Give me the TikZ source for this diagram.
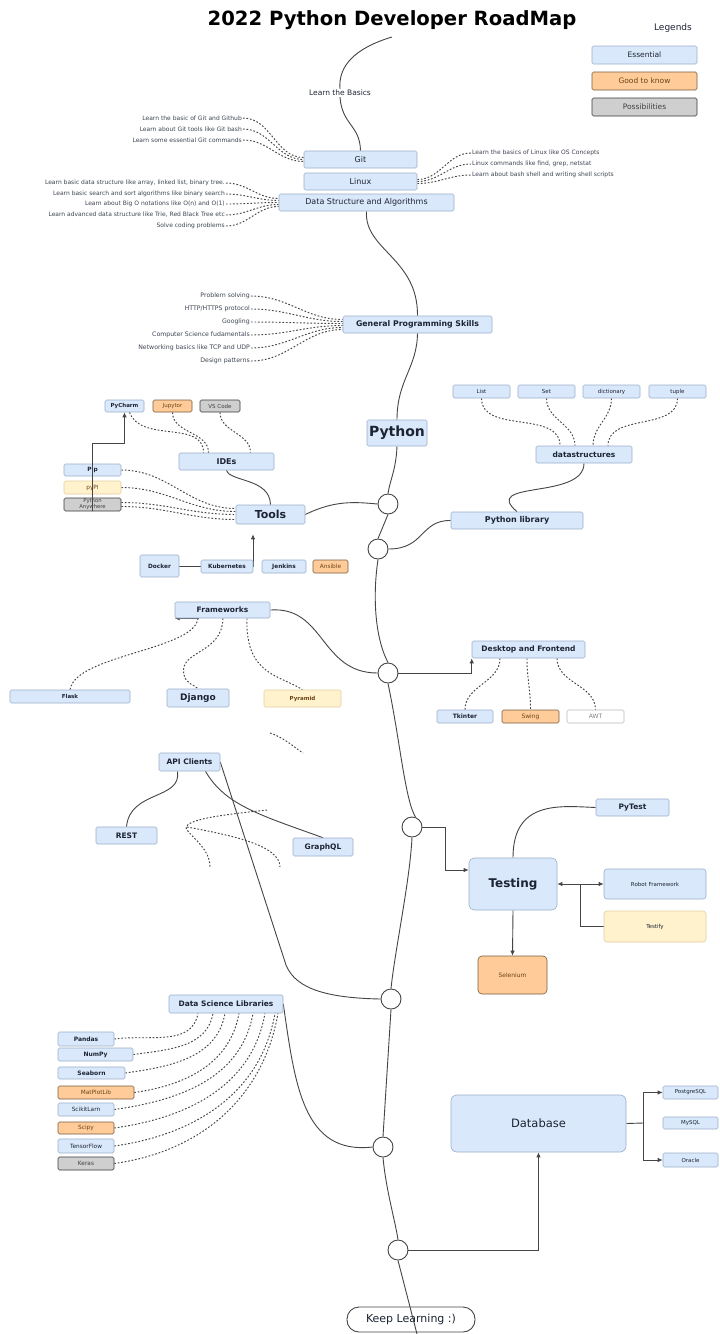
\documentclass[tikz,border=0pt]{standalone}
\usepackage{fontspec}
\setmainfont{DejaVu Sans}
\usetikzlibrary{arrows.meta}
\pgfdeclarelayer{bg}
\pgfsetlayers{bg,main}
\definecolor{essF}{HTML}{DAE8FC}
\definecolor{essD}{HTML}{9AAFCB}
\definecolor{goodF}{HTML}{FFCC99}
\definecolor{goodD}{HTML}{7A5C40}
\definecolor{goodT}{HTML}{6B4416}
\definecolor{possF}{HTML}{CFCFCF}
\definecolor{possD}{HTML}{3A3A3A}
\definecolor{possT}{HTML}{404040}
\definecolor{yelF}{HTML}{FFF2CC}
\definecolor{yelD}{HTML}{E2CFA0}
\definecolor{txt}{HTML}{1C2433}
\definecolor{lnc}{HTML}{454545}
\begin{document}
\begin{tikzpicture}[x=1pt,y=-1pt,
  box/.style={rectangle,rounded corners=1.5pt,inner sep=0pt,align=center,text=txt,line width=0.6pt},
  ess/.style={box,draw=essD,fill=essF},
  good/.style={box,draw=goodD,fill=goodF,text=goodT},
  poss/.style={box,draw=possD,fill=possF,text=possT},
  yel/.style={box,draw=yelD,fill=yelF,text=goodT},
  wbox/.style={box,draw=gray!55,fill=white,text=gray},
  wh/.style 2 args={minimum width=#1pt,minimum height=#2pt},
  fs/.style={font=\fontsize{#1}{#1}\selectfont},
  fsb/.style={font=\fontsize{#1}{#1}\selectfont\bfseries},
  note/.style={fs=6,inner sep=1pt,text=txt!85},
  dotl/.style={draw=lnc,line width=0.95pt,dash pattern=on 1.7pt off 1.8pt},
  ln/.style={draw=lnc,line width=0.9pt},
  arr/.style={ln,-{Latex[length=5pt,width=4.5pt]}},
  darr/.style={ln,{Latex[length=5pt,width=4.5pt]}-{Latex[length=5pt,width=4.5pt]}},
  circ/.style={circle,draw=lnc,fill=white,line width=0.9pt,minimum size=20pt,inner sep=0pt}
]
\useasboundingbox (0,0) rectangle (720,1334);

% ---------- title and legend
\node[fsb=19.6,text=black] (title) at (392,20) {2022 Python Developer RoadMap};
\node[fs=9,text=txt] (legends) at (673,28) {Legends};
\node[ess,wh={105}{18},fs=7.5] (lgE) at (644.5,55) {Essential};
\node[good,wh={105}{18},fs=7.5] (lgG) at (644.5,81) {Good to know};
\node[poss,wh={105}{18},fs=7.5] (lgP) at (644.5,107) {Possibilities};

% ---------- basics
\coordinate (start) at (392,37);
\node[fs=7.5,inner sep=1pt,text=txt] (basics) at (340,93) {Learn the Basics};
\node[ess,wh={113}{17},fs=8] (git) at (360.5,159.5) {Git};
\node[ess,wh={113}{17},fs=8] (linux) at (360.5,181.5) {Linux};
\node[ess,wh={175}{17},fs=8] (dsa) at (366.5,202.5) {Data Structure and Algorithms};

\node[note,anchor=east] (g1) at (243,118) {Learn the basic of Git and Github};
\node[note,anchor=east] (g2) at (243,129) {Learn about Git tools like Git bash};
\node[note,anchor=east] (g3) at (243,140) {Learn some essential Git commands};

\node[note,anchor=west] (l1) at (471,153) {Learn the basics of Linux like OS Concepts};
\node[note,anchor=west] (l2) at (471,164) {Linux commands like find, grep, netstat};
\node[note,anchor=west] (l3) at (471,175) {Learn about bash shell and writing shell scripts};

\node[note,anchor=east] (d1) at (226,183) {Learn basic data structure like array, linked list, binary tree.};
\node[note,anchor=east] (d2) at (226,194) {Learn basic search and sort algorithms like binary search};
\node[note,anchor=east] (d3) at (226,204) {Learn about Big O notations like O(n) and O(1)};
\node[note,anchor=east] (d4) at (226,215) {Learn advanced data structure like Trie, Red Black Tree etc};
\node[note,anchor=east] (d5) at (226,226) {Solve coding problems};

% ---------- general skills
\node[ess,wh={149}{17},fsb=7.8] (gps) at (417.5,324.5) {General Programming Skills};
\node[note,fs=6.2,anchor=east] (p1) at (251,296) {Problem solving};
\node[note,fs=6.2,anchor=east] (p2) at (251,309) {HTTP/HTTPS protocol};
\node[note,fs=6.2,anchor=east] (p3) at (251,322) {Googling};
\node[note,fs=6.2,anchor=east] (p4) at (251,335) {Computer Science fudamentals};
\node[note,fs=6.2,anchor=east] (p5) at (251,348) {Networking basics like TCP and UDP};
\node[note,fs=6.2,anchor=east] (p6) at (251,361) {Design patterns};

% ---------- python
\node[ess,wh={60}{26},fsb=14] (py) at (397,433) {Python};
\node[circ] (c1) at (388,504) {};
\node[circ] (c2) at (378,549) {};
\node[circ] (c3) at (388,673) {};
\node[circ] (c4) at (412,827) {};
\node[circ] (c5) at (391,999) {};
\node[circ] (c6) at (383,1147) {};
\node[circ] (c7) at (398,1250) {};

% ---------- tools
\node[ess,wh={69}{19},fsb=11] (tools) at (270.5,514.5) {Tools};
\node[ess,wh={95}{17},fsb=8] (ides) at (226.5,461.5) {IDEs};
\node[ess,wh={39}{12},fsb=5.5] (pycharm) at (124.5,406) {PyCharm};
\node[good,wh={39}{12},fs=5.5] (jup) at (172.5,406) {Jupytor};
\node[poss,wh={40}{12},fs=5.5] (vsc) at (220,406) {VS Code};
\node[ess,wh={57}{12},fsb=5.8] (pip) at (92.5,470) {Pip};
\node[yel,wh={57}{13},fs=5.8] (pypi) at (92.5,487.5) {pyPI};
\node[poss,wh={57}{13},font=\fontsize{5.3}{6}\selectfont] (pa) at (92.5,504.5) {Python\\Anywhere};
\node[ess,wh={39}{22},fsb=5.8] (docker) at (159.5,566) {Docker};
\node[ess,wh={52}{13},fsb=5.8] (kube) at (227,566.5) {Kubernetes};
\node[ess,wh={44}{13},fsb=5.8] (jenkins) at (284,566.5) {Jenkins};
\node[good,wh={35}{13},fs=5.8] (ansible) at (330.5,566.5) {Ansible};

% ---------- python library
\node[ess,wh={132}{17},fsb=8] (pylib) at (517,520.5) {Python library};
\node[ess,wh={96}{17},fsb=7.5] (ds) at (584,454.5) {datastructures};
\node[ess,wh={57}{13},fs=5.5] (list) at (481.5,391.5) {List};
\node[ess,wh={57}{13},fs=5.5] (set) at (546.5,391.5) {Set};
\node[ess,wh={57}{13},fs=5.5] (dict) at (611.5,391.5) {dictionary};
\node[ess,wh={57}{13},fs=5.5] (tuple) at (677.5,391.5) {tuple};

% ---------- frameworks
\node[ess,wh={95}{16},fsb=7.5] (fw) at (222.5,610) {Frameworks};
\node[ess,wh={120}{13},fsb=5.5] (flask) at (70,696.5) {Flask};
\node[ess,wh={62}{18},fsb=9] (django) at (198,698) {Django};
\node[yel,wh={77}{17},fsb=5.5] (pyramid) at (302.5,698.5) {Pyramid};

% ---------- desktop
\node[ess,wh={113}{17},fsb=7.5] (desk) at (528.5,649.5) {Desktop and Frontend};
\node[ess,wh={56}{13},fsb=6] (tk) at (465,716.5) {Tkinter};
\node[good,wh={57}{13},fs=6] (swing) at (530.5,716.5) {Swing};
\node[wbox,wh={57}{13},fs=6] (awt) at (595.5,716.5) {AWT};

% ---------- api clients
\node[ess,wh={61}{18},fsb=7.5] (api) at (189.5,762) {API Clients};
\node[ess,wh={61}{17},fsb=7.5] (rest) at (126.5,835.5) {REST};
\node[ess,wh={60}{18},fsb=7.5] (gql) at (323,847) {GraphQL};

% ---------- testing
\node[ess,wh={88}{52},fsb=12,rounded corners=5pt] (testing) at (513,884) {Testing};
\node[ess,wh={73}{17},fsb=7.5] (pytest) at (632.5,807.5) {PyTest};
\node[ess,wh={102}{30},fs=5.5,rounded corners=3pt] (robot) at (655,884) {Robot Framework};
\node[yel,wh={102}{31},fs=5.5,rounded corners=3pt,text=txt] (testify) at (655,926.5) {Testify};
\node[good,wh={69}{38},fs=6,rounded corners=4pt] (selenium) at (512.5,975) {Selenium};

% ---------- data science
\node[ess,wh={114}{18},fsb=7.5] (dsl) at (226,1004) {Data Science Libraries};
\node[ess,wh={56}{14},fsb=6] (pandas) at (86,1039) {Pandas};
\node[ess,wh={75}{13},fsb=6] (numpy) at (95.5,1054.5) {NumPy};
\node[ess,wh={67}{12},fsb=6] (seaborn) at (91.5,1073) {Seaborn};
\node[good,wh={76}{13},fs=5.8] (mpl) at (96,1092.5) {MatPlotLib};
\node[ess,wh={56}{13},fs=5.8] (scikit) at (86,1109.5) {ScikitLarn};
\node[good,wh={56}{12},fs=5.8] (scipy) at (86,1128) {Scipy};
\node[ess,wh={56}{14},fs=5.8] (tf) at (86,1146) {TensorFlow};
\node[poss,wh={56}{13},fs=5.8] (keras) at (86,1163.5) {Keras};

% ---------- database
\node[ess,wh={175}{57},fs=11.5,rounded corners=6pt] (db) at (538.5,1123.5) {Database};
\node[ess,wh={55}{13},fs=5.5] (pg) at (690.5,1092.5) {PostgreSQL};
\node[ess,wh={55}{12},fs=5.5] (mysql) at (690.5,1123) {MySQL};
\node[ess,wh={55}{14},fs=5.5] (ora) at (690.5,1160) {Oracle};

\node[box,draw=lnc,line width=0.9pt,fill=white,rounded corners=12pt,wh={128}{25},fs=11] (keep) at (411,1319.5) {Keep Learning :)};
\coordinate (finish) at (417,1334);

% ---------- connectors on top
\draw[arr] (pa.south) |- ([yshift=-31pt]pycharm.south) -- (pycharm.south);
\draw[ln] (c7.south) -- (finish);

\begin{pgfonlayer}{bg}
\fill[white] (0,0) rectangle (720,1334);
% main road
\draw[ln] (start) .. controls (355,48) and (338,66) .. (basics.north);
\draw[ln] (basics.south) .. controls (342,125) and (360,125) .. (git.north);
\draw[ln] (dsa.south) .. controls (364,250) and (418,258) .. (gps.north);
\draw[ln] (gps.south) .. controls (417,368) and (397,380) .. (py.north);
\draw[ln] (py.south) .. controls (396,470) and (390,480) .. (c1.north);
\draw[ln] (c1.south) -- (c2.north);
\draw[ln] (c2.south) .. controls (372,600) and (376,640) .. (c3.north);
\draw[ln] (c3.south) .. controls (400,740) and (405,800) .. (c4.70);
\draw[ln] (c4.south) .. controls (410,880) and (395,950) .. (c5.north);
\draw[ln] (c5.south) -- (c6.north);
\draw[ln] (c6.south) .. controls (386,1190) and (395,1220) .. (c7.north);

% git / linux / dsa notes
\draw[dotl] (g1.east) to[out=0,in=180] ([yshift=2pt]git.west);
\draw[dotl] (g2.east) to[out=0,in=180] (git.west);
\draw[dotl] (g3.east) to[out=0,in=180] ([yshift=-2pt]git.west);
\draw[dotl] ([yshift=2pt]linux.east) to[out=0,in=180] (l1.west);
\draw[dotl] (linux.east) to[out=0,in=180] (l2.west);
\draw[dotl] ([yshift=-2pt]linux.east) to[out=0,in=180] (l3.west);
\draw[dotl] (d1.east) to[out=0,in=180] ([yshift=4pt]dsa.west);
\draw[dotl] (d2.east) to[out=0,in=180] ([yshift=2pt]dsa.west);
\draw[dotl] (d3.east) to[out=0,in=180] (dsa.west);
\draw[dotl] (d4.east) to[out=0,in=180] ([yshift=-2pt]dsa.west);
\draw[dotl] (d5.east) to[out=0,in=180] ([yshift=-4pt]dsa.west);
\draw[dotl] (p1.east) to[out=0,in=180] ([yshift=5pt]gps.west);
\draw[dotl] (p2.east) to[out=0,in=180] ([yshift=3pt]gps.west);
\draw[dotl] (p3.east) to[out=0,in=180] ([yshift=1pt]gps.west);
\draw[dotl] (p4.east) to[out=0,in=180] ([yshift=-1pt]gps.west);
\draw[dotl] (p5.east) to[out=0,in=180] ([yshift=-3pt]gps.west);
\draw[dotl] (p6.east) to[out=0,in=180] ([yshift=-5pt]gps.west);

% tools
\draw[ln] (tools.east) .. controls (335,500) and (355,502) .. (c1.west);
\draw[ln] (ides.south) .. controls (230,482) and (270,478) .. (tools.north);
\draw[dotl] ([xshift=5pt]pycharm.south) to[out=-70,in=90] ([xshift=-23pt]ides.north);
\draw[dotl] (jup.south) to[out=-90,in=90] ([xshift=-18pt]ides.north);
\draw[dotl] (vsc.south) to[out=-90,in=90] ([xshift=24pt]ides.north);
\draw[dotl] (pip.east) to[out=0,in=180] ([yshift=6pt]tools.west);
\draw[dotl] (pypi.east) to[out=0,in=180] ([yshift=3pt]tools.west);
\draw[dotl] ([yshift=2pt]pa.east) to[out=0,in=180] (tools.west);
\draw[dotl] ([yshift=-2pt]pa.east) to[out=0,in=180] ([yshift=-5pt]tools.west);
\draw[arr] (docker.east) -| ([xshift=-17.5pt,yshift=-10pt]tools.south);

% python library
\draw[ln] (c2.east) .. controls (425,549) and (420,520) .. (pylib.west);
\draw[ln] (ds.south) .. controls (584,500) and (480,480) .. (pylib.north);
\draw[dotl] (list.south) to[out=-90,in=90] ([xshift=-24pt]ds.north);
\draw[dotl] (set.south) to[out=-90,in=90] ([xshift=-9pt]ds.north);
\draw[dotl] (dict.south) to[out=-90,in=90] ([xshift=9pt]ds.north);
\draw[dotl] (tuple.south) to[out=-90,in=90] ([xshift=24pt]ds.north);

% frameworks
\draw[ln] (fw.east) .. controls (325,606) and (320,673) .. (c3.west);
\draw[arr] ([xshift=24pt]fw.south west) -- (fw.south west);
\draw[dotl] ([xshift=-24.5pt]fw.south) .. controls (195,650) and (75,655) .. (flask.north);
\draw[dotl] ([xshift=0.5pt]fw.south) .. controls (222,655) and (178,650) .. (184,675) .. controls (186,684) and (195,685) .. (django.north);
\draw[dotl] ([xshift=24.5pt]fw.south) .. controls (245,675) and (280,675) .. (pyramid.north);
\draw[dotl] (270,733) .. controls (285,738) and (295,748) .. (303,753);

% desktop
\draw[arr] (c3.east) -| (desk.south west);
\draw[dotl] ([xshift=-28.5pt]desk.south) to[out=-90,in=90] (tk.north);
\draw[dotl] ([xshift=-1.5pt]desk.south) to[out=-90,in=90] (swing.north);
\draw[dotl] ([xshift=28.5pt]desk.south) to[out=-90,in=90] (awt.north);

% api clients
\draw[ln] (api.east) -- (286,965) .. controls (296,990) and (330,998) .. (c5.west);
\draw[ln] ([xshift=-12pt]api.south) .. controls (182,800) and (130,790) .. (rest.north);
\draw[ln] ([xshift=16pt]api.south) .. controls (225,805) and (260,815) .. (gql.north);
\draw[dotl] (267,810) .. controls (220,815) and (180,820) .. (187,830) .. controls (195,840) and (210,850) .. (210,867);
\draw[dotl] (187,827) .. controls (230,835) and (280,845) .. (280,867);

% testing
\draw[arr] (c4.east) -| (445,870) -- ([yshift=14pt]testing.west);
\draw[ln] (testing.north) .. controls (513,800) and (560,806) .. (pytest.west);
\draw[darr] (testing.east) -- (robot.west);
\coordinate (tb) at (580,884);
\draw[ln] (tb) |- (testify.west);
\draw[arr] (testing.south) -- (selenium.north);

% data science
\draw[ln] (dsl.east) .. controls (295,1085) and (303,1155) .. (c6.west);
\draw[dotl] (pandas.east) to[out=8,in=-100] ([xshift=-28pt]dsl.south);
\draw[dotl] (numpy.east) to[out=8,in=-100] ([xshift=-13pt]dsl.south);
\draw[dotl] (seaborn.east) to[out=8,in=-100] ([xshift=-1pt]dsl.south);
\draw[dotl] (mpl.east) to[out=8,in=-100] ([xshift=13pt]dsl.south);
\draw[dotl] (scikit.east) to[out=8,in=-100] ([xshift=27pt]dsl.south);
\draw[dotl] (scipy.east) to[out=8,in=-100] ([xshift=39pt]dsl.south);
\draw[dotl] (tf.east) to[out=8,in=-100] ([xshift=49pt]dsl.south);
\draw[dotl] (keras.east) to[out=8,in=-100] ([xshift=52pt]dsl.south);

% database
\draw[arr] (c7.east) -| (db.south);
\coordinate (dbj) at (643,1123);
\draw[ln] (db.east) -- (dbj);
\draw[arr] (dbj) |- (pg.west);
\draw[arr] (dbj) |- (ora.west);
\end{pgfonlayer}
\end{tikzpicture}
\end{document}
